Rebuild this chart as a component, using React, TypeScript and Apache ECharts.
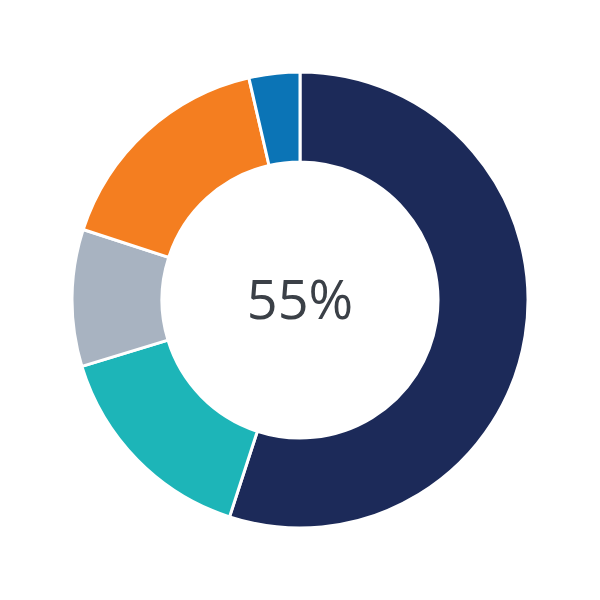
import React, { useEffect, useRef } from "react";
import * as echarts from "echarts";

const categories = ["A", "B", "C", "D", "E"];
const values = [55, 15.3, 9.7, 16.4, 3.6];
const colors = ["#1c2a59", "#1db5b8", "#a8b3c1", "#f47e20", "#0b74b6"];
const centerLabel = "55%";

export default function App() {
  const ref = useRef<HTMLDivElement>(null);
  useEffect(() => {
    if (!ref.current) return;
    const chart = echarts.init(ref.current, undefined, { renderer: "svg" });
    chart.setOption({
      animation: false,
      backgroundColor: "#ffffff",
      graphic: [
        {
          type: "text",
          x: 292,
          y: 290,
          style: {
            text: centerLabel,
            fontFamily: "'Open Sans', sans-serif",
            fontSize: 54,
            fill: "#3b4047",
            align: "center",
            verticalAlign: "middle",
          },
        },
      ],
      series: [
        {
          type: "pie",
          center: [292, 292],
          radius: [138, 228],
          startAngle: 90,
          clockwise: true,
          label: { show: false },
          labelLine: { show: false },
          silent: true,
          itemStyle: { borderColor: "#ffffff", borderWidth: 3 },
          data: categories.map((c, i) => ({
            name: c,
            value: values[i],
            itemStyle: { color: colors[i] },
          })),
        },
      ],
    });
    return () => chart.dispose();
  }, []);
  return <div ref={ref} style={{ width: 584, height: 584 }} />;
}
